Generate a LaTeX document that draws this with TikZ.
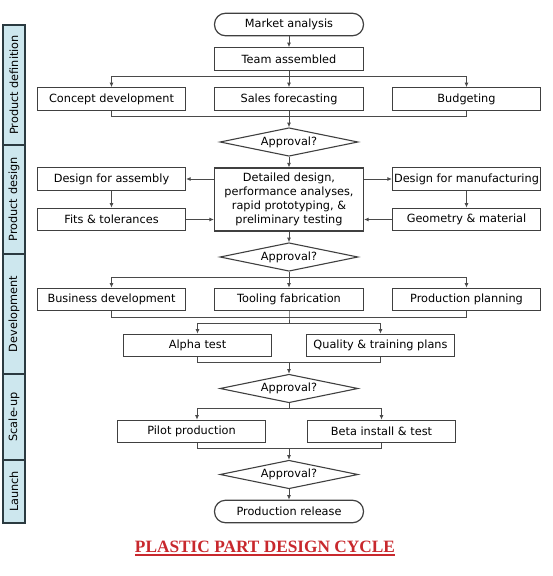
\documentclass[tikz,border=0pt]{standalone}
\usepackage{fontspec}
\setmainfont{DejaVu Sans}
\newfontfamily\titlefont{Liberation Serif}
\usetikzlibrary{shapes.geometric,arrows.meta,calc}
\definecolor{boxline}{HTML}{404040}
\definecolor{conline}{HTML}{4A4A4A}
\definecolor{sidefill}{HTML}{CDE7EE}
\definecolor{sideline}{HTML}{2B3A40}
\definecolor{titlered}{HTML}{C8282D}
\tikzset{
  box/.style={draw=boxline, line width=1.2pt, rectangle, minimum width=148pt, minimum height=22.5pt, inner sep=0pt, align=center, font=\fontsize{11.3}{14}\selectfont},
  midbox/.style={box, minimum width=149pt},
  term/.style={midbox, rounded corners=11pt},
  decision/.style={draw=boxline, line width=1.1pt, diamond, aspect=4.84, minimum width=138pt, minimum height=28.5pt, inner sep=0pt, font=\fontsize{11.3}{14}\selectfont},
  sidebox/.style={draw=sideline, fill=sidefill, line width=1.6pt, rectangle, rotate=90, minimum height=22pt, inner sep=0pt, font=\fontsize{11.3}{14}\selectfont},
  ln/.style={draw=conline, line width=0.8pt},
  arr/.style={ln, -{Latex[length=4.5pt,width=4pt]}},
}
\begin{document}
\begin{tikzpicture}[x=1pt,y=-1pt]
\useasboundingbox (0,0) rectangle (552,576);
% sidebar
\node[sidebox, minimum width=120pt] (s1) at (14,85) {Product definition};
\node[sidebox, minimum width=109pt] (s2) at (14,199.5) {Product design};
\node[sidebox, minimum width=120pt] (s3) at (14,314) {Development};
\node[sidebox, minimum width=86pt] (s4) at (14,417) {Scale-up};
\node[sidebox, minimum width=63pt] (s5) at (14,491.5) {Launch};
% nodes
\node[term] (market) at (289,24.5) {Market analysis};
\node[midbox] (team) at (289,59) {Team assembled};
\node[box] (concept) at (111.5,99) {Concept development};
\node[midbox] (sales) at (289,99) {Sales forecasting};
\node[box] (budget) at (466.5,99) {Budgeting};
\node[decision] (apr1) at (289,142) {Approval?};
\node[midbox, minimum height=63pt] (detailed) at (289,199.5) {Detailed design,\\performance analyses,\\rapid prototyping, \&\\preliminary testing};
\node[box] (dfa) at (111.5,179) {Design for assembly};
\node[box] (fits) at (111.5,219.5) {Fits \& tolerances};
\node[box] (dfm) at (466.5,179) {Design for manufacturing};
\node[box] (geo) at (466.5,219.5) {Geometry \& material};
\node[decision] (apr2) at (289,257) {Approval?};
\node[box] (bus) at (111.5,299.5) {Business development};
\node[midbox] (tool) at (289,299.5) {Tooling fabrication};
\node[box] (plan) at (466.5,299.5) {Production planning};
\node[box] (alpha) at (197.5,345.5) {Alpha test};
\node[box] (quality) at (380.5,345.5) {Quality \& training plans};
\node[decision] (apr3) at (289,388.5) {Approval?};
\node[box] (pilot) at (191.5,431.5) {Pilot production};
\node[box] (beta) at (381.5,431.5) {Beta install \& test};
\node[decision] (apr4) at (289,474.5) {Approval?};
\node[term] (release) at (289,511.5) {Production release};
% junction coordinates
\coordinate (b1) at (289,76);
\coordinate (m1) at (289,116);
\coordinate (b2) at (289,277);
\coordinate (m2) at (289,317);
\coordinate (b3) at (289,323);
\coordinate (m3) at (289,362);
\coordinate (b4) at (289,408);
\coordinate (m4) at (289,448);
% connectors
\draw[arr] (market) -- (team);
\draw[ln] (team.south) -- (b1);
\draw[arr] (b1) -| (concept.north);
\draw[arr] (b1) -| (budget.north);
\draw[arr] (b1) -- (sales.north);
\draw[ln] (concept.south) |- (m1);
\draw[ln] (budget.south) |- (m1);
\draw[ln] (sales.south) -- (m1);
\draw[arr] (m1) -- (apr1.north);
\draw[arr] (apr1.south) -- (detailed.north);
\draw[arr] (detailed.west |- dfa) -- (dfa.east);
\draw[arr] (dfa) -- (fits);
\draw[arr] (fits.east) -- (detailed.west |- fits);
\draw[arr] (detailed.east |- dfm) -- (dfm.west);
\draw[arr] (dfm) -- (geo);
\draw[arr] (geo.west) -- (detailed.east |- geo);
\draw[arr] (detailed.south) -- (apr2.north);
\draw[ln] (apr2.south) -- (b2);
\draw[arr] (b2) -| (bus.north);
\draw[arr] (b2) -| (plan.north);
\draw[arr] (b2) -- (tool.north);
\draw[ln] (bus.south) |- (m2);
\draw[ln] (plan.south) |- (m2);
\draw[ln] (tool.south) -- (m2) -- (b3);
\draw[arr] (b3) -| (alpha.north);
\draw[arr] (b3) -| (quality.north);
\draw[ln] (alpha.south) |- (m3);
\draw[ln] (quality.south) |- (m3);
\draw[arr] (m3) -- (apr3.north);
\draw[ln] (apr3.south) -- (b4);
\draw[arr] (b4) -| ([xshift=5.5pt]pilot.north);
\draw[arr] (b4) -| (beta.north);
\draw[ln] ([xshift=5.5pt]pilot.south) |- (m4);
\draw[ln] (beta.south) |- (m4);
\draw[arr] (m4) -- (apr4.north);
\draw[arr] (apr4.south) -- (release.north);
% title
\node[anchor=base, inner sep=0pt, text=titlered, font=\titlefont\bfseries\fontsize{17.3}{20}\selectfont] (title) at (265,552) {PLASTIC PART DESIGN CYCLE};
\draw[titlered, line width=1.3pt] ([yshift=-3pt]title.base west) -- ([yshift=-3pt]title.base east);
\end{tikzpicture}
\end{document}
